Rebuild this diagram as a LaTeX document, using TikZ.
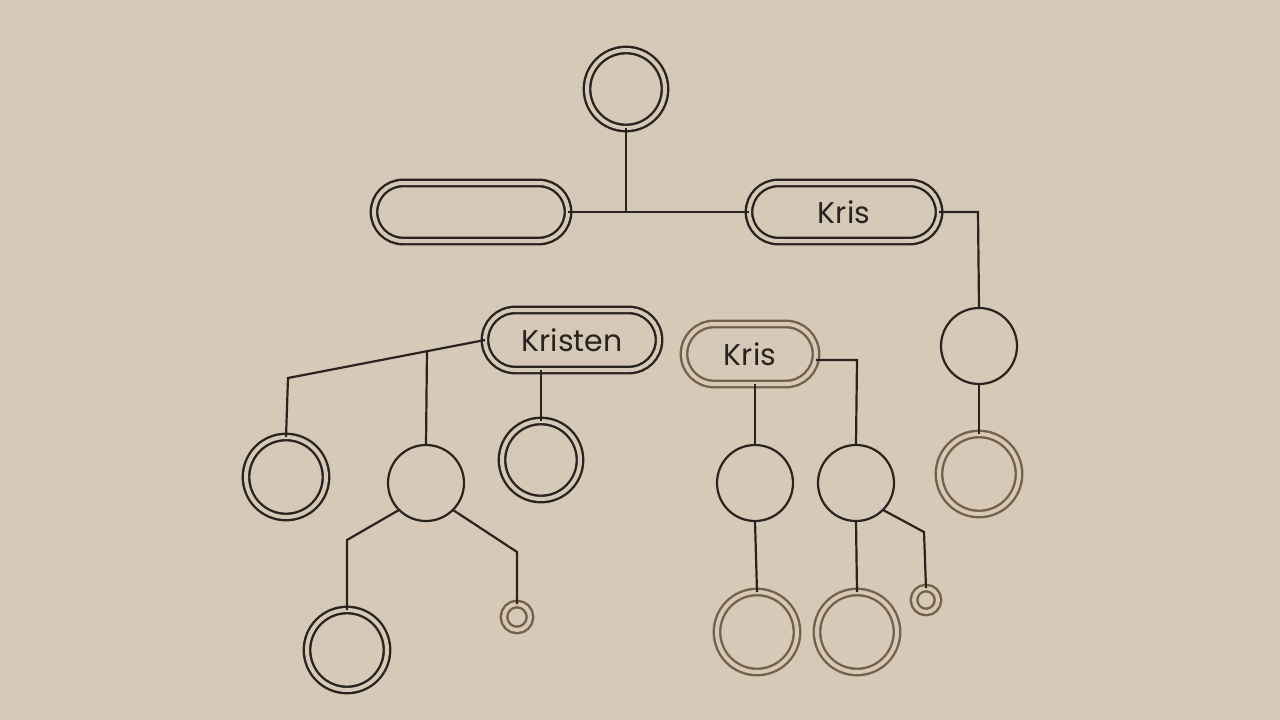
\documentclass[tikz,border=0pt]{standalone}
\usepackage{fontspec}
\setmainfont{Poppins}
\definecolor{bg}{HTML}{D6C9B7}
\definecolor{ink}{HTML}{2A2420}
\definecolor{brn}{HTML}{75614A}
\tikzset{
  ln/.style={draw=ink,line width=2.2pt},
  ring/.style={circle,draw=ink,line width=2.4pt,double=bg,double distance=4pt,minimum size=#1,inner sep=0pt,outer sep=0pt},
  sring/.style={circle,draw=ink,line width=2.2pt,minimum size=#1,inner sep=0pt,outer sep=0pt},
  pill/.style={rectangle,rounded corners=29pt,draw=ink,line width=2.4pt,double=bg,double distance=4pt,minimum height=58pt,inner sep=0pt,outer sep=0pt,font=\fontsize{30}{34}\selectfont,text=ink}
}
\begin{document}
\begin{tikzpicture}[x=1pt,y=-1pt]
\fill[bg] (0,0) rectangle (1280,720);
\useasboundingbox (0,0) rectangle (1280,720);
% nodes
\node[ring=78pt] (top) at (626,89) {};
\node[pill,minimum width=194pt] (pl) at (471,212) {};
\node[pill,minimum width=190pt] (kr1) at (844,212) {Kris};
\node[sring=76pt] (c1) at (979,346) {};
\node[ring=80pt,draw=brn] (c2) at (979,474) {};
\node[pill,minimum width=174pt,minimum height=60pt,rounded corners=30pt] (kt) at (572,340) {Kristen};
\node[pill,minimum width=132pt,minimum height=60pt,rounded corners=30pt,draw=brn] (kr2) at (750,354) {Kris};
\node[ring=80pt] (a1) at (286,477) {};
\node[sring=76pt] (a2) at (426,483) {};
\node[ring=78pt] (a3) at (541,460) {};
\node[ring=80pt] (a4) at (347,650) {};
\node[ring=26pt,draw=brn] (a5) at (517,617) {};
\node[sring=76pt] (b1) at (755,483) {};
\node[sring=76pt] (b2) at (856,483) {};
\node[ring=80pt,draw=brn] (b3) at (757,632) {};
\node[ring=80pt,draw=brn] (b4) at (857,632) {};
\node[ring=24pt,draw=brn] (b5) at (926,600) {};
\coordinate (j0) at (626,212);
% connectors
\draw[ln] (top.south) -- (j0);
\draw[ln] (pl.east) -- (kr1.west);
\draw[ln] (kr1.east) -- (978,212) -- (c1.north);
\draw[ln] (c1.south) -- (c2.north);
\draw[ln] (kt.west) -- (288,378) -- (a1.north);
\draw[ln] (427,350) -- (a2.north);
\draw[ln] (kt.south -| a3) -- (a3.north);
\draw[ln] (a2.south west) -- (347,540) -- (a4.north);
\draw[ln] (a2.south east) -- (517,552) -- (a5.north);
\draw[ln] (kr2.east |- 0,360) -- (857,360) -- (b2.north);
\draw[ln] (kr2.south -| b1) -- (b1.north);
\draw[ln] (b1.south) -- (b3.north);
\draw[ln] (b2.south) -- (b4.north);
\draw[ln] (b2.south east) -- (924,532) -- (b5.north);
\end{tikzpicture}
\end{document}
